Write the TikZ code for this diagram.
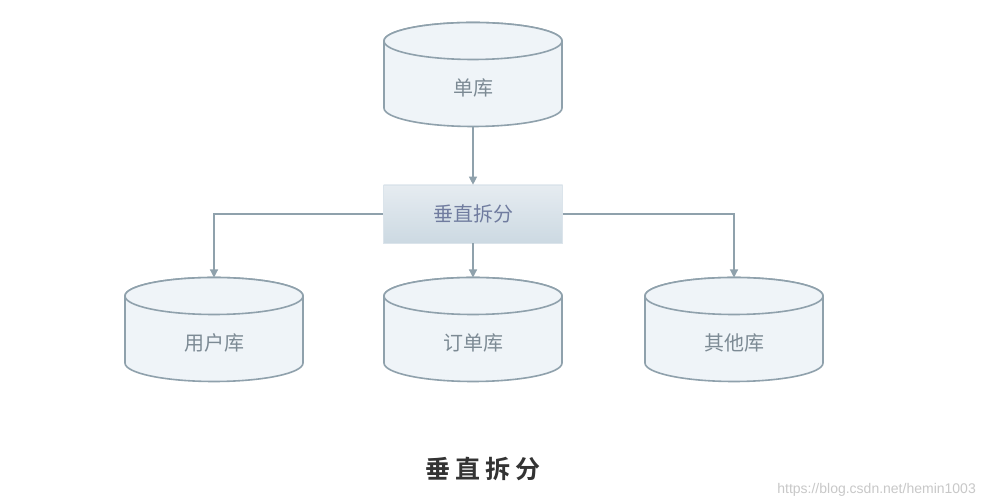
\documentclass[tikz,border=0pt]{standalone}
\usepackage{fontspec}
\setmainfont{Liberation Sans}
\newfontfamily\cjk{Noto Sans CJK SC}
\newfontfamily\cjkbold{Noto Sans CJK SC Bold}
\usetikzlibrary{arrows.meta}
\definecolor{edge}{HTML}{8FA1AC}
\definecolor{dbfill}{HTML}{EFF4F8}
\definecolor{boxtop}{HTML}{E6ECF1}
\definecolor{boxbot}{HTML}{CCD9E2}
\definecolor{lbl}{HTML}{7C8A94}
\definecolor{cap}{HTML}{333333}
\definecolor{wm}{HTML}{C8C8C8}
\tikzset{
  dbtext/.style={font=\cjk\fontsize{20}{20}\selectfont, text=lbl, inner sep=0pt},
  dbshape/.style={draw=edge, line width=1.6pt, fill=dbfill},
  splitbox/.style={draw=boxbot!70!white, line width=0.6pt, top color=boxtop, bottom color=boxbot,
    minimum width=179pt, minimum height=58pt, font=\cjk\fontsize{20}{20}\selectfont, text=lbl!90!blue, inner sep=0pt},
  link/.style={draw=edge, line width=1.2pt, -{Triangle[length=8pt,width=8pt]}},
}
% \dbcyl{name}{cx}{ellipse-center-y}{label}{label-y}
\newcommand{\dbcyl}[5]{%
  \path[dbshape] (#2-89,#3) -- (#2-89,#3-67) arc[start angle=180,end angle=360,x radius=89,y radius=18.5] -- (#2+89,#3) arc[start angle=0,end angle=180,x radius=89,y radius=18.5] -- cycle;
  \path[dbshape] (#2,#3) ellipse[x radius=89,y radius=18.5];
  \coordinate (#1-top) at (#2,#3+18.5);
  \coordinate (#1-bot) at (#2,#3-85.5);
  \node[dbtext] (#1) at (#2,#5) {#4};
}
\begin{document}
\begin{tikzpicture}[x=1pt,y=1pt]
\useasboundingbox (0,0) rectangle (996,502);
\fill[white] (0,0) rectangle (996,502);
\dbcyl{single}{473}{461}{单库}{414}
\dbcyl{user}{214}{206}{用户库}{159}
\dbcyl{order}{473}{206}{订单库}{159}
\dbcyl{other}{734}{206}{其他库}{159}
\node[splitbox] (split) at (473,288) {垂直拆分};
\draw[link] (single-bot) -- (split.north);
\draw[link] (split.west) -| (user-top);
\draw[link] (split.south) -- (order-top);
\draw[link] (split.east) -| (other-top);
\node[font=\cjkbold\fontsize{25}{25}\selectfont, text=cap, inner sep=0pt] (caption) at (483,33) {垂\hspace{5pt}直\hspace{5pt}拆\hspace{5pt}分};
\node[font=\fontsize{14}{14}\selectfont, text=wm, inner sep=0pt, anchor=east] (mark) at (976,12) {https://blog.csdn.net/hemin1003};
\end{tikzpicture}
\end{document}
